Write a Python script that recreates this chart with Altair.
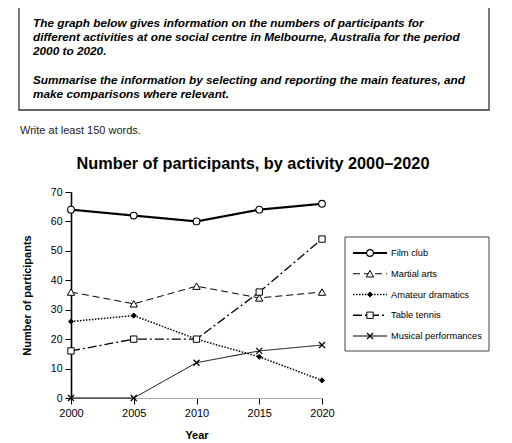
import altair as alt
import pandas as pd

# ---------------- data ----------------
years = [2000, 2005, 2010, 2015, 2020]
series = ["Film club", "Martial arts", "Amateur dramatics", "Table tennis", "Musical performances"]
film_club = [64, 62, 60, 64, 66]
martial_arts = [36, 32, 38, 34, 36]
amateur_dramatics = [26, 28, 20, 14, 6]
table_tennis = [16, 20, 20, 36, 54]
musical_performances = [0, 0, 12, 16, 18]
y_ticks = [0, 10, 20, 30, 40, 50, 60, 70]

prompt_par1 = [
    "The graph below gives information on the numbers of participants for",
    "different activities at one social centre in Melbourne, Australia for the period",
    "2000 to 2020.",
]
prompt_par2 = [
    "Summarise the information by selecting and reporting the main features, and",
    "make comparisons where relevant.",
]
instruction = "Write at least 150 words."
chart_title = "Number of participants, by activity 2000\u20132020"

values = [film_club, martial_arts, amateur_dramatics, table_tennis, musical_performances]
df = pd.DataFrame(
    [{"year": y, "series": s, "value": v}
     for s, vals in zip(series, values) for y, v in zip(years, vals)]
)

FONT = "Liberation Sans"
W, H = 251, 206

styles = {
    "Film club": dict(dash=[1, 0], width=2.2, shape="circle", size=45, fill="white", sw=1.1),
    "Martial arts": dict(dash=[7, 4], width=1.0, shape="triangle-up", size=55, fill="white", sw=1.0),
    "Amateur dramatics": dict(dash=[1.5, 1.5], width=1.5, shape="diamond", size=26, fill="black", sw=1.0),
    "Table tennis": dict(dash=[9, 3, 2, 3], width=1.3, shape="square", size=40, fill="white", sw=1.0),
    "Musical performances": dict(dash=[1, 0], width=1.0, shape="M-1,-1L1,1M-1,1L1,-1", size=36, fill=None, sw=1.3),
}

one = pd.DataFrame({"k": [0]})

x_axis = alt.Axis(values=years, format="d", title="Year", tickSize=6, tickColor="black",
                  domainColor="#aaaaaa", labelPadding=3, labelFontSize=11, labelColor="black",
                  titleFontSize=11, titleFontWeight="bold", titlePadding=11, grid=False,
                  labelFont=FONT, titleFont=FONT, titleColor="black", labelFlush=False)
y_axis = alt.Axis(values=y_ticks, title="Number of participants", tickSize=6, tickColor="black",
                  domainColor="black", domainWidth=1.6, labelPadding=3, labelFontSize=10.5,
                  labelColor="black", titleFontSize=11, titleFontWeight="bold", titlePadding=18,
                  grid=False, labelFont=FONT, titleFont=FONT, titleColor="black")

xs = alt.Scale(domain=[2000, 2020], nice=False, zero=False)
ys = alt.Scale(domain=[0, 70], nice=False)

layers = []

# header box and text
layers.append(alt.Chart(one).mark_rect(fill="white", stroke="#333333", strokeWidth=1.3).encode(
    x=alt.value(-52), x2=alt.value(418), y=alt.value(-186), y2=alt.value(-82)))
layers.append(alt.Chart(one).mark_text(align="left", baseline="alphabetic", font=FONT, fontSize=11.8,
                                       fontWeight="bold", fontStyle="italic", lineHeight=14,
                                       color="black").encode(
    x=alt.value(-38), y=alt.value(-165), text=alt.value(prompt_par1)))
layers.append(alt.Chart(one).mark_text(align="left", baseline="alphabetic", font=FONT, fontSize=11.8,
                                       fontWeight="bold", fontStyle="italic", lineHeight=14,
                                       color="black").encode(
    x=alt.value(-38), y=alt.value(-108.5), text=alt.value(prompt_par2)))
layers.append(alt.Chart(one).mark_text(align="left", baseline="alphabetic", font=FONT, fontSize=11,
                                       color="#222222").encode(
    x=alt.value(-51), y=alt.value(-58), text=alt.value(instruction)))
layers.append(alt.Chart(one).mark_text(align="center", baseline="alphabetic", font=FONT, fontSize=16.3,
                                       fontWeight="bold", color="black").encode(
    x=alt.value(182), y=alt.value(-23), text=alt.value(chart_title)))

# main lines
first = True
for s in series:
    st = styles[s]
    layers.append(alt.Chart(df).transform_filter(alt.datum.series == s).mark_line(
        color="black", strokeDash=st["dash"], strokeWidth=st["width"]).encode(
        x=alt.X("year:Q", scale=xs, axis=x_axis),
        y=alt.Y("value:Q", scale=ys, axis=y_axis if first else None),
    ))
    first = False

# main markers
for s in series:
    st = styles[s]
    kw = dict(shape=st["shape"], size=st["size"], stroke="black", strokeWidth=st["sw"], opacity=1)
    if st["fill"] is None:
        mk = alt.Chart(df).transform_filter(alt.datum.series == s).mark_point(filled=False, **kw)
    else:
        mk = alt.Chart(df).transform_filter(alt.datum.series == s).mark_point(
            filled=True, fill=st["fill"], fillOpacity=1, **kw)
    layers.append(mk.encode(
        x=alt.X("year:Q", scale=xs, axis=x_axis),
        y=alt.Y("value:Q", scale=ys, axis=None),
    ))

# legend
leg_df = pd.DataFrame({"series": series})
leg_scale = alt.Scale(type="point", domain=series, range=[61, 144], padding=0)
layers.append(alt.Chart(one).mark_rect(fill="white", stroke="#444444", strokeWidth=1).encode(
    x=alt.value(274), x2=alt.value(418), y=alt.value(45), y2=alt.value(159)))
for s in series:
    st = styles[s]
    sd = pd.DataFrame({"series": [s]})
    layers.append(alt.Chart(sd).mark_rule(color="black", strokeDash=st["dash"],
                                          strokeWidth=st["width"]).encode(
        x=alt.value(282), x2=alt.value(316),
        y=alt.Y("series:N", scale=leg_scale, axis=None)))
    kw = dict(shape=st["shape"], size=st["size"], stroke="black", strokeWidth=st["sw"], opacity=1)
    if st["fill"] is None:
        mk = alt.Chart(sd).mark_point(filled=False, **kw)
    else:
        mk = alt.Chart(sd).mark_point(filled=True, fill=st["fill"], fillOpacity=1, **kw)
    layers.append(mk.encode(x=alt.value(299),
                            y=alt.Y("series:N", scale=leg_scale, axis=None)))
layers.append(alt.Chart(leg_df).mark_text(align="left", baseline="middle", font=FONT, fontSize=9.3,
                                          color="black").encode(
    x=alt.value(320), y=alt.Y("series:N", scale=leg_scale, axis=None), text="series:N"))

chart = alt.layer(*layers).resolve_scale(y="independent").properties(
    width=W, height=H,
    padding={"left": 63, "top": 184, "right": 182, "bottom": 45},
    autosize=alt.AutoSizeParams(type="none"),
    background="white",
).configure_view(stroke=None)

chart.save("out.html", embed_options={"renderer": "svg", "actions": False})
